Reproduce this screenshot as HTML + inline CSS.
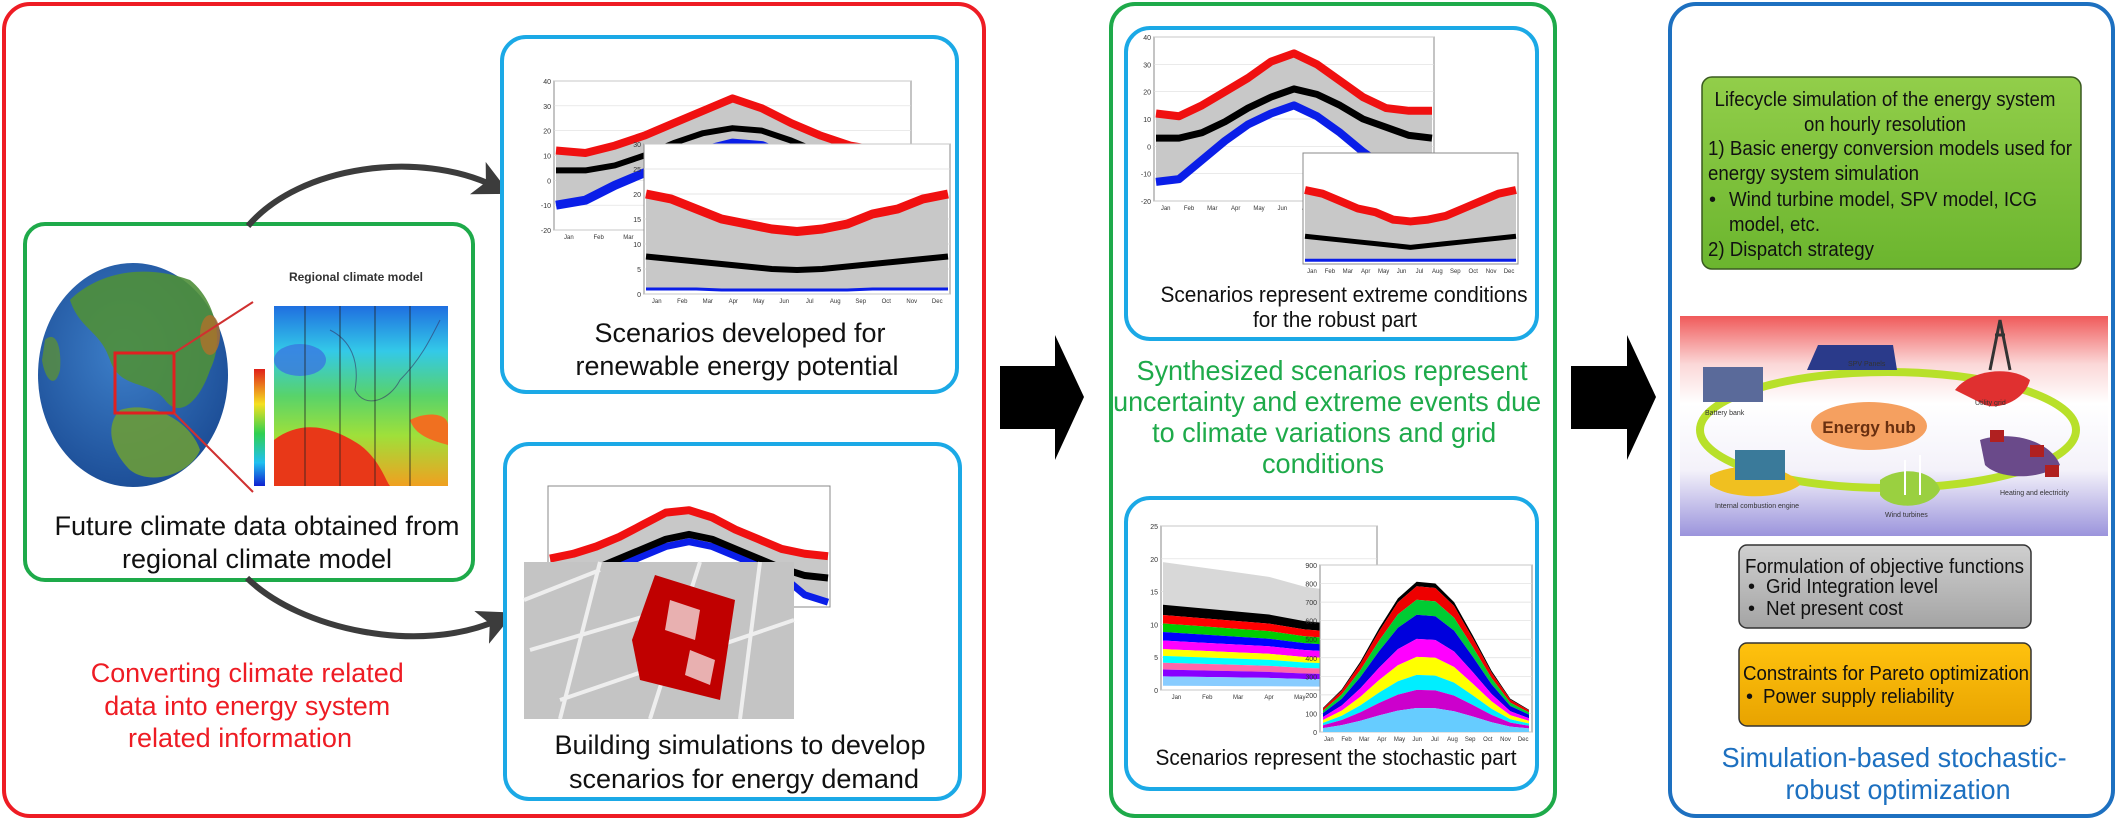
<!DOCTYPE html>
<html><head><meta charset="utf-8"><style>
html,body{margin:0;padding:0;background:#fff;}
svg{display:block;font-family:"Liberation Sans",Arial,sans-serif;}
</style></head><body>
<svg id="root" width="2117" height="820" viewBox="0 0 2117 820" xmlns="http://www.w3.org/2000/svg">
<defs>
<radialGradient id="globeGrad" cx="0.45" cy="0.4" r="0.6"><stop offset="0" stop-color="#3d7fc9"/><stop offset="1" stop-color="#1d4f98"/></radialGradient>
<linearGradient id="mapGrad" x1="0" y1="0" x2="0" y2="1"><stop offset="0" stop-color="#1f6fe0"/><stop offset="0.25" stop-color="#33c9e8"/><stop offset="0.5" stop-color="#58d36a"/><stop offset="0.72" stop-color="#9fe03a"/><stop offset="1" stop-color="#f0a020"/></linearGradient>
<linearGradient id="cbarGrad" x1="0" y1="0" x2="0" y2="1"><stop offset="0" stop-color="#e0201a"/><stop offset="0.3" stop-color="#f5e020"/><stop offset="0.55" stop-color="#30d050"/><stop offset="0.8" stop-color="#20c0f0"/><stop offset="1" stop-color="#1020d0"/></linearGradient>
<linearGradient id="hubGrad" x1="0" y1="0" x2="0" y2="1"><stop offset="0" stop-color="#f05a5a"/><stop offset="0.22" stop-color="#fbd8d8"/><stop offset="0.4" stop-color="#ffffff"/><stop offset="0.7" stop-color="#f4f2fa"/><stop offset="1" stop-color="#9b94dc"/></linearGradient>
<linearGradient id="greenBox" x1="0" y1="0" x2="0" y2="1"><stop offset="0" stop-color="#92ce4a"/><stop offset="1" stop-color="#6bb52e"/></linearGradient>
<linearGradient id="greyBox" x1="0" y1="0" x2="0" y2="1"><stop offset="0" stop-color="#cfcfcf"/><stop offset="1" stop-color="#a4a4a4"/></linearGradient>
<linearGradient id="orangeBox" x1="0" y1="0" x2="0" y2="1"><stop offset="0" stop-color="#ffc20e"/><stop offset="1" stop-color="#e8a300"/></linearGradient>
<marker id="ah" markerWidth="6" markerHeight="6" refX="3" refY="3" orient="auto" markerUnits="strokeWidth"><path d="M0,0 L6,3 L0,6 L1.5,3 Z" fill="#3c3c3c"/></marker>
</defs>

<!-- Panel 1 -->
<rect x="4" y="4" width="980" height="812" rx="26" fill="#fff" stroke="#ee1c24" stroke-width="4"/>
<rect x="25" y="224" width="448" height="356" rx="20" fill="#fff" stroke="#1eaa4a" stroke-width="4"/>
<g>
<ellipse cx="133" cy="375" rx="95" ry="112" fill="url(#globeGrad)"/>
<path d="M70,300 C95,275 140,262 190,280 C215,300 225,340 210,370 C200,400 180,420 165,400 C150,380 120,390 110,360 C100,330 80,330 70,300Z" fill="#4f8f3a" opacity="0.9"/>
<path d="M120,410 C150,400 190,420 200,450 C190,475 150,486 130,470 C110,450 105,425 120,410Z" fill="#6a9b3a" opacity="0.9"/>
<path d="M45,340 C55,330 62,345 60,370 C55,390 45,380 42,360Z" fill="#5a8f3a" opacity="0.8"/>
<ellipse cx="210" cy="335" rx="10" ry="20" fill="#b0702a" opacity="0.8"/>
<rect x="115" y="353" width="59" height="60" fill="none" stroke="#e02020" stroke-width="3"/>
<line x1="174" y1="353" x2="253" y2="302" stroke="#d03030" stroke-width="2"/>
<line x1="174" y1="413" x2="253" y2="492" stroke="#d03030" stroke-width="2"/>
</g>
<g>
<text x="356" y="281" font-size="12" text-anchor="middle" fill="#333" font-weight="bold">Regional climate model</text>
<rect x="274" y="306" width="174" height="180" fill="url(#mapGrad)"/>
<ellipse cx="300" cy="360" rx="26" ry="16" fill="#3a78e0" opacity="0.8"/>
<path d="M274,440 C300,420 330,425 360,445 C380,460 385,480 390,486 L274,486Z" fill="#e83818"/>
<path d="M410,420 C430,410 448,415 448,425 L448,445 C430,440 415,435 410,420Z" fill="#f07020"/>
<path d="M330,330 C350,340 360,360 355,390 C365,410 390,400 400,380 C420,360 430,340 440,320" fill="none" stroke="#336" stroke-width="1" opacity="0.6"/>
<line x1="305" y1="306" x2="305" y2="486" stroke="#222" stroke-width="0.8"/>
<line x1="340" y1="306" x2="340" y2="486" stroke="#222" stroke-width="0.8"/>
<line x1="375" y1="306" x2="375" y2="486" stroke="#222" stroke-width="0.8"/>
<line x1="410" y1="306" x2="410" y2="486" stroke="#222" stroke-width="0.8"/>
<rect x="254" y="369" width="11" height="117" fill="url(#cbarGrad)"/>
</g>
<text x="257" y="535" font-size="27" textLength="405" lengthAdjust="spacingAndGlyphs" text-anchor="middle" fill="#111">Future climate data obtained from</text>
<text x="257" y="568" font-size="27" textLength="270" lengthAdjust="spacingAndGlyphs" text-anchor="middle" fill="#111">regional climate model</text>

<path d="M248,226 C300,165 420,150 494,186" fill="none" stroke="#3c3c3c" stroke-width="6" marker-end="url(#ah)"/>
<path d="M247,578 C300,630 420,655 498,620" fill="none" stroke="#3c3c3c" stroke-width="6" marker-end="url(#ah)"/>

<text font-size="27" fill="#ee1c24" text-anchor="middle">
<tspan x="251" y="682" textLength="313" lengthAdjust="spacingAndGlyphs">Converting climate related</tspan>
<tspan x="251" y="715" textLength="286" lengthAdjust="spacingAndGlyphs">data into energy system</tspan>
<tspan x="240" y="747" textLength="224" lengthAdjust="spacingAndGlyphs">related information</tspan></text>

<rect x="502" y="37" width="455" height="355" rx="24" fill="#fff" stroke="#1ba9e6" stroke-width="4"/>
<g id="c1"></g>
<g id="c2"></g>
<text x="740" y="342" font-size="27" textLength="291" lengthAdjust="spacingAndGlyphs" text-anchor="middle" fill="#111">Scenarios developed for</text>
<text x="737" y="375" font-size="27" textLength="323" lengthAdjust="spacingAndGlyphs" text-anchor="middle" fill="#111">renewable energy potential</text>

<rect x="505" y="444" width="455" height="355" rx="24" fill="#fff" stroke="#1ba9e6" stroke-width="4"/>
<g id="c3"></g>
<g>
<rect x="524" y="562" width="270" height="157" fill="#c4c4c4"/>
<path d="M524,600 L600,570 M530,650 L700,600 M560,700 L794,620 M600,562 L560,719 M700,562 L650,719 M760,562 L740,719" stroke="#eee" stroke-width="4" fill="none"/>
<path d="M655,575 L735,600 L720,700 L640,680 L632,640 Z" fill="#c00000"/>
<path d="M670,600 L700,610 L695,640 L665,630Z M690,650 L715,660 L710,685 L685,675Z" fill="#e8b0b0"/>
</g>
<text x="740" y="754" font-size="27" textLength="371" lengthAdjust="spacingAndGlyphs" text-anchor="middle" fill="#111">Building simulations to develop</text>
<text x="744" y="788" font-size="27" textLength="350" lengthAdjust="spacingAndGlyphs" text-anchor="middle" fill="#111">scenarios for energy demand</text>

<polygon points="1000,366 1055,366 1055,335 1084,397 1055,460 1055,429 1000,429" fill="#000"/>

<!-- Panel 2 -->
<rect x="1111" y="4" width="444" height="812" rx="24" fill="#fff" stroke="#1eaa4a" stroke-width="4"/>
<rect x="1126" y="28" width="411" height="311" rx="24" fill="#fff" stroke="#1ba9e6" stroke-width="4"/>
<g id="c4"></g>
<g id="c5"></g>
<text x="1344" y="302" font-size="22" textLength="367" lengthAdjust="spacingAndGlyphs" text-anchor="middle" fill="#111">Scenarios represent extreme conditions</text>
<text x="1335" y="327" font-size="22" textLength="164" lengthAdjust="spacingAndGlyphs" text-anchor="middle" fill="#111">for the robust part</text>
<text font-size="28" fill="#1eaa4a" text-anchor="middle">
<tspan x="1336" y="380" textLength="391" lengthAdjust="spacingAndGlyphs">Synthesized scenarios represent</tspan>
<tspan x="1331" y="411" textLength="428" lengthAdjust="spacingAndGlyphs">uncertainty and extreme events due</tspan>
<tspan x="1328" y="442" textLength="344" lengthAdjust="spacingAndGlyphs">to climate variations and grid</tspan>
<tspan x="1323" y="473" textLength="122" lengthAdjust="spacingAndGlyphs">conditions</tspan></text>
<rect x="1126" y="498" width="411" height="291" rx="24" fill="#fff" stroke="#1ba9e6" stroke-width="4"/>
<g id="c6"></g>
<g id="c7"></g>
<text x="1336" y="765" font-size="22" textLength="361" lengthAdjust="spacingAndGlyphs" text-anchor="middle" fill="#111">Scenarios represent the stochastic part</text>

<polygon points="1571,366 1627,366 1627,335 1656,397 1627,460 1627,429 1571,429" fill="#000"/>

<!-- Panel 3 -->
<rect x="1670" y="4" width="443" height="812" rx="26" fill="#fff" stroke="#1d70c0" stroke-width="4"/>
<rect x="1702" y="77" width="379" height="192" rx="10" fill="url(#greenBox)" stroke="#3a5a20" stroke-width="1.5"/>
<g font-size="20" fill="#111">
<text x="1885" y="106" text-anchor="middle" textLength="341" lengthAdjust="spacingAndGlyphs">Lifecycle simulation of the energy system</text>
<text x="1885" y="131" text-anchor="middle" textLength="162" lengthAdjust="spacingAndGlyphs">on hourly resolution</text>
<text x="1708" y="155" textLength="364" lengthAdjust="spacingAndGlyphs">1) Basic energy conversion models used for</text>
<text x="1708" y="180" textLength="211" lengthAdjust="spacingAndGlyphs">energy system simulation</text>
<text x="1709" y="206">•</text>
<text x="1729" y="206" textLength="308" lengthAdjust="spacingAndGlyphs">Wind turbine model, SPV model, ICG</text>
<text x="1729" y="231" textLength="91" lengthAdjust="spacingAndGlyphs">model, etc.</text>
<text x="1708" y="256" textLength="166" lengthAdjust="spacingAndGlyphs">2) Dispatch strategy</text>
</g>
<g>
<rect x="1680" y="316" width="428" height="220" fill="url(#hubGrad)"/>
<ellipse cx="1888" cy="430" rx="188" ry="58" fill="none" stroke="#b8e02a" stroke-width="8"/>
<ellipse cx="1869" cy="426" rx="58" ry="24" fill="#f5a060"/>
<text x="1869" y="433" font-size="17" font-weight="bold" fill="#6a3010" text-anchor="middle">Energy hub</text>
<polygon points="1807,370 1818,345 1893,345 1897,370" fill="#2a3a8a"/>
<rect x="1703" y="367" width="60" height="35" fill="#5a6a9a"/>
<path d="M1955,390 C1970,370 2010,365 2030,380 C2025,400 2000,410 1985,405Z" fill="#e03030"/>
<path d="M1990,370 L2000,320 L2010,370 M1995,335 L2005,335" stroke="#333" stroke-width="3" fill="none"/>
<path d="M1980,440 C2010,430 2050,440 2060,465 C2040,480 2000,480 1985,465Z" fill="#6a4a8a"/>
<rect x="1990" y="430" width="14" height="12" fill="#b02020"/><rect x="2030" y="445" width="14" height="12" fill="#b02020"/><rect x="2045" y="465" width="14" height="12" fill="#b02020"/>
<path d="M1710,475 C1740,460 1790,465 1800,485 C1780,500 1730,500 1710,485Z" fill="#f0c020"/>
<rect x="1735" y="450" width="50" height="30" fill="#3a7a9a"/>
<path d="M1880,480 C1900,465 1935,470 1940,490 C1930,510 1890,510 1880,495Z" fill="#9ad040"/>
<path d="M1905,495 L1905,460 M1920,495 L1920,455" stroke="#fff" stroke-width="2"/>
<text x="1848" y="366" font-size="7" fill="#333">SPV Panels</text>
<text x="1705" y="415" font-size="7" fill="#333">Battery bank</text>
<text x="1975" y="405" font-size="7" fill="#333">Utility grid</text>
<text x="1715" y="508" font-size="7" fill="#333">Internal combustion engine</text>
<text x="1885" y="517" font-size="7" fill="#333">Wind turbines</text>
<text x="2000" y="495" font-size="7" fill="#333">Heating and electricity</text>
</g>
<rect x="1739" y="545" width="292" height="83" rx="8" fill="url(#greyBox)" stroke="#333" stroke-width="1.5"/>
<g font-size="20" fill="#111">
<text x="1745" y="573" textLength="279" lengthAdjust="spacingAndGlyphs">Formulation of objective functions</text>
<text x="1748" y="593">•</text><text x="1766" y="593" textLength="172" lengthAdjust="spacingAndGlyphs">Grid Integration level</text>
<text x="1748" y="615">•</text><text x="1766" y="615" textLength="137" lengthAdjust="spacingAndGlyphs">Net present cost</text>
</g>
<rect x="1739" y="643" width="292" height="83" rx="8" fill="url(#orangeBox)" stroke="#333" stroke-width="1.5"/>
<g font-size="20" fill="#111">
<text x="1743" y="680" textLength="286" lengthAdjust="spacingAndGlyphs">Constraints for Pareto optimization</text>
<text x="1746" y="703">•</text><text x="1763" y="703" textLength="191" lengthAdjust="spacingAndGlyphs">Power supply reliability</text>
</g>
<text font-size="28" fill="#1d70c0" text-anchor="middle">
<tspan x="1898" y="767" textLength="345" lengthAdjust="spacingAndGlyphs">Simulation-based stochastic-</tspan>
<tspan x="1898" y="799" textLength="225" lengthAdjust="spacingAndGlyphs">robust optimization</tspan></text>
</svg>
<script>
const months = ["Jan","Feb","Mar","Apr","May","Jun","Jul","Aug","Sep","Oct","Nov","Dec","Jan"];
// renewable temperature chart
const tempHigh1 = [12,11,14,18,23,28,33,29,23,18,14,12,12];
const tempTyp1 = [4,4,6,10,15,19,21,20,16,11,7,5,4];
const tempLow1 = [-10,-8,-2,3,8,12,15,14,9,4,-2,-7,-10];
// renewable wind chart
const windHigh1 = [20,19,17,15,14,13,12.5,13,14,16,17,19,20];
const windTyp1 = [7.5,7,6.5,6,5.5,5,4.8,5,5.5,6,6.5,7,7.5];
const windLow1 = [1,1,1,0.8,0.8,0.8,0.8,0.8,0.8,1,1,1,1];
// demand temperature chart
const demHigh = [10,12,15,19,24,29,30,27,22,18,14,12,11];
const demTyp = [3,4,6,10,14,18,20,18,14,10,6,3,2];
const demLow = [-2,0,3,7,11,15,17,15,11,7,3,-5,-8];
// robust temperature chart
const tempHigh2 = [12,11,15,20,25,31,34,30,24,18,14,13,13];
const tempTyp2 = [3,3,5,9,14,18,21,19,15,10,7,4,3];
const tempLow2 = [-13,-12,-5,2,8,12,15,11,5,-2,-8,-12,-13];
// robust wind chart
const windHigh2 = [20,19,17,15,14,12,11.5,12,13,15,17,19,20];
const windTyp2 = [7.5,7,6.5,6,5.5,5,4.5,5,5.5,6,6.5,7,7.5];
const windLow2 = [1,1,1,1,1,1,1,1,1,1,1,1,1];
// stochastic wind bands Jan..Jul
const stochMonths = ["Jan","Feb","Mar","Apr","May","Jun","Jul"];
const windBandTop = [13,12.5,12,11.5,10.5,10,9.5];
const windBandLevels = [1.0,0.88,0.78,0.68,0.58,0.48,0.4,0.32,0.24,0.16];
const windBandColors = ["#000","#f00","#0c0","#00f","#f0f","#ff0","#0ff","#f6a","#80f","#8cf"];
// global radiation Jan..Dec
const solarMax = [130,230,380,560,720,810,800,700,520,330,180,120];
const solarLevels = [1.0,0.97,0.88,0.78,0.62,0.5,0.38,0.28,0.16];
const solarColors = ["#000","#e00","#0c3","#00d","#f0f","#ff0","#0ef","#c0c","#6cf"];

const NS="http://www.w3.org/2000/svg";
function mk(tag, attrs, parent){const e=document.createElementNS(NS,tag);for(const k in attrs)e.setAttribute(k,attrs[k]);parent.appendChild(e);return e;}
function lin(d0,d1,r0,r1){return v=>r0+(v-d0)/(d1-d0)*(r1-r0);}
function frame(g,x0,y0,x1,y1,ticks,sy,labels,sx){
  const bg=mk("rect",{x:x0,y:y0,width:x1-x0,height:y1-y0,fill:"#fff",stroke:"#888","stroke-width":1},g);
  
  
  ticks.forEach(t=>{const y=sy(t);
    const gl=mk("line",{x1:x0,x2:x1,y1:y,y2:y,stroke:"#ddd","stroke-width":0.7},g);
    
    
    const tl=mk("text",{x:x0-3,y:y+3,"font-size":7,"text-anchor":"end",fill:"#333"},g);tl.textContent=t;
    
    });
  labels.forEach((m,i)=>{const tl=mk("text",{x:sx(i+0.5),y:y1+9,"font-size":6,"text-anchor":"middle",fill:"#333"},g);tl.textContent=m;
    
    });
}
function pts(arr,sx,sy){return arr.map((v,i)=>sx(i)+","+sy(v)).join(" ");}
function area(g,top,bot,sx,sy,fill,name){
  const p=pts(top,sx,sy)+" "+bot.map((v,i)=>[sx(i),sy(v)]).reverse().map(a=>a.join(",")).join(" ");
  const e=mk("polygon",{points:p,fill:fill},g);
  
  
}
function line(g,arr,sx,sy,color,w,name){
  const e=mk("polyline",{points:pts(arr,sx,sy),fill:"none",stroke:color,"stroke-width":w,"stroke-linejoin":"round"},g);
  
  
}
function triChart(id,x0,y0,x1,y1,ymin,ymax,ticks,hi,ty,lo,labels,wHi,wTy,wLo){
  const g=document.getElementById(id);
  const sx=lin(0,hi.length-1,x0+2,x1-2), sy=lin(ymin,ymax,y1,y0);
  frame(g,x0,y0,x1,y1,ticks,sy,labels,lin(0,labels.length,x0,x1));
  area(g,hi,lo,sx,sy,"#c8c8c8","spread-band");
  line(g,lo,sx,sy,"#0a1ee8",wLo,"extreme-low-line");
  line(g,hi,sx,sy,"#f01010",wHi,"extreme-high-line");
  line(g,ty,sx,sy,"#000",wTy,"typical-line");
}
const m12=months.slice(0,12);
triChart("c1",554,81,911,230,-20,40,[-20,-10,0,10,20,30,40],tempHigh1,tempTyp1,tempLow1,m12,8,6,9);
triChart("c2",644,144,950,294,0,30,[0,5,10,15,20,25,30],windHigh1,windTyp1,windLow1,m12,9,6,3);
triChart("c3",548,486,830,607,-10,40,[],demHigh,demTyp,demLow,[],8,7,7);
triChart("c4",1154,37,1434,201,-20,40,[-20,-10,0,10,20,30,40],tempHigh2,tempTyp2,tempLow2,m12,8,7,8);
triChart("c5",1303,153,1518,264,0,30,[],windHigh2,windTyp2,windLow2,m12,8,5,3);
// stochastic wind
(function(){
  const g=document.getElementById("c6");const x0=1161,y0=526,x1=1377,y1=690;
  const sx=lin(0,stochMonths.length-1,x0+2,x1-2), sy=lin(0,25,y1,y0);
  frame(g,x0,y0,x1,y1,[0,5,10,15,20,25],sy,stochMonths,lin(0,stochMonths.length,x0,x1));
  area(g,windBandTop.map(v=>v*1.5),windBandTop.map(v=>v*0.9),sx,sy,"#d8d8d8","scenario-spread");
  windBandLevels.forEach((f,k)=>{
    const top=windBandTop.map(v=>v*f), bot=windBandTop.map(v=>v*(windBandLevels[k+1]||0.05));
    area(g,top,bot,sx,sy,windBandColors[k],"wind-band");
  });
})();
// global radiation
(function(){
  const g=document.getElementById("c7");const x0=1320,y0=565,x1=1532,y1=732;
  const sx=lin(0,solarMax.length-1,x0+3,x1-3), sy=lin(0,900,y1,y0);
  frame(g,x0,y0,x1,y1,[0,100,200,300,400,500,600,700,800,900],sy,m12,lin(0,12,x0,x1));
  solarLevels.forEach((f,k)=>{
    const top=solarMax.map(v=>v*f), bot=solarMax.map(v=>v*(solarLevels[k+1]||0));
    area(g,top,bot,sx,sy,solarColors[k],"radiation-band");
  });
})();
</script>
</body></html>
